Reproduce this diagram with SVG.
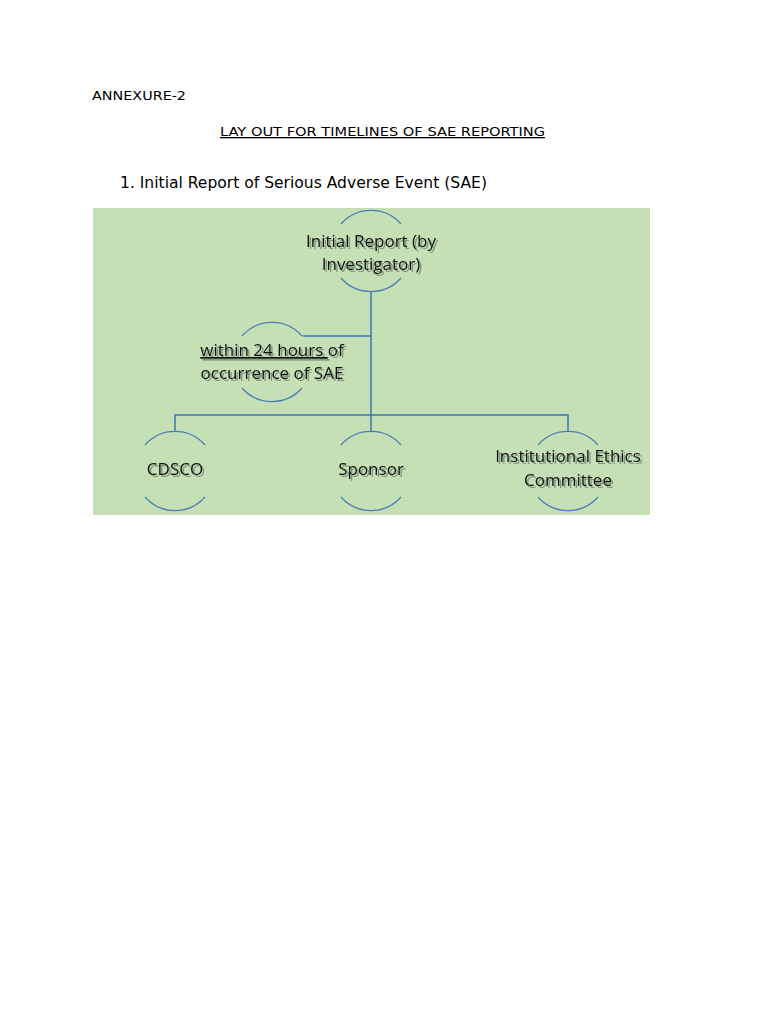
<svg xmlns="http://www.w3.org/2000/svg" width="768" height="1024" viewBox="0 0 768 1024">
<defs>
<filter id="sh" x="-10%" y="-30%" width="130%" height="160%"><feDropShadow dx="2" dy="2" stdDeviation="0.6" flood-color="#7f8f7b" flood-opacity="0.9"/></filter>
</defs>
<style>
.h{font-family:"DejaVu Sans",Verdana,sans-serif;fill:#000}
.t{font-family:"Open Sans","Liberation Sans",sans-serif;font-size:17px;text-anchor:middle;fill:#111;filter:url(#sh)}
.arc{fill:none;stroke:#4a7ebb;stroke-width:1.3}
.ln{fill:none;stroke:#3f74b0;stroke-width:1.5}
</style>
<rect width="768" height="1024" fill="#fff"/>
<text class="h" x="92" y="100" font-size="13" textLength="94" lengthAdjust="spacingAndGlyphs">ANNEXURE-2</text>
<text class="h" x="220" y="136" font-size="13" textLength="325" lengthAdjust="spacingAndGlyphs" text-decoration="underline">LAY OUT FOR TIMELINES OF SAE REPORTING</text>
<text class="h" x="120" y="188" font-size="15.5" textLength="367" lengthAdjust="spacingAndGlyphs">1.  Initial Report of Serious Adverse Event (SAE)</text>
<rect x="93" y="208" width="557" height="307" fill="#c5e0b4"/>
<g id="connectors">
<path class="ln" d="M371 292V432M303 336H371M175 432V415H568V432"/>
</g>
<g id="n-initial">
<path class="arc" d="M341 224A40 40 0 0 1 401 224M341 278A40 40 0 0 0 401 278"/>
<text class="t" x="371" y="247">Initial Report (by</text>
<text class="t" x="371" y="270">Investigator)</text>
</g>
<g id="n-within">
<path class="arc" d="M242 336A40 40 0 0 1 302 336M242 388A40 40 0 0 0 302 388"/>
<text class="t" x="272" y="356"><tspan text-decoration="underline">within 24 hours </tspan>of</text>
<text class="t" x="272" y="379">occurrence of SAE</text>
</g>
<g id="n-cdsco">
<path class="arc" d="M145 445A40 40 0 0 1 205 445M145 497A40 40 0 0 0 205 497"/>
<text class="t" x="175" y="475">CDSCO</text>
</g>
<g id="n-sponsor">
<path class="arc" d="M341 445A40 40 0 0 1 401 445M341 497A40 40 0 0 0 401 497"/>
<text class="t" x="371" y="475">Sponsor</text>
</g>
<g id="n-iec">
<path class="arc" d="M538 445A40 40 0 0 1 598 445M538 497A40 40 0 0 0 598 497"/>
<text class="t" x="568" y="462">Institutional Ethics</text>
<text class="t" x="568" y="486">Committee</text>
</g>
</svg>
